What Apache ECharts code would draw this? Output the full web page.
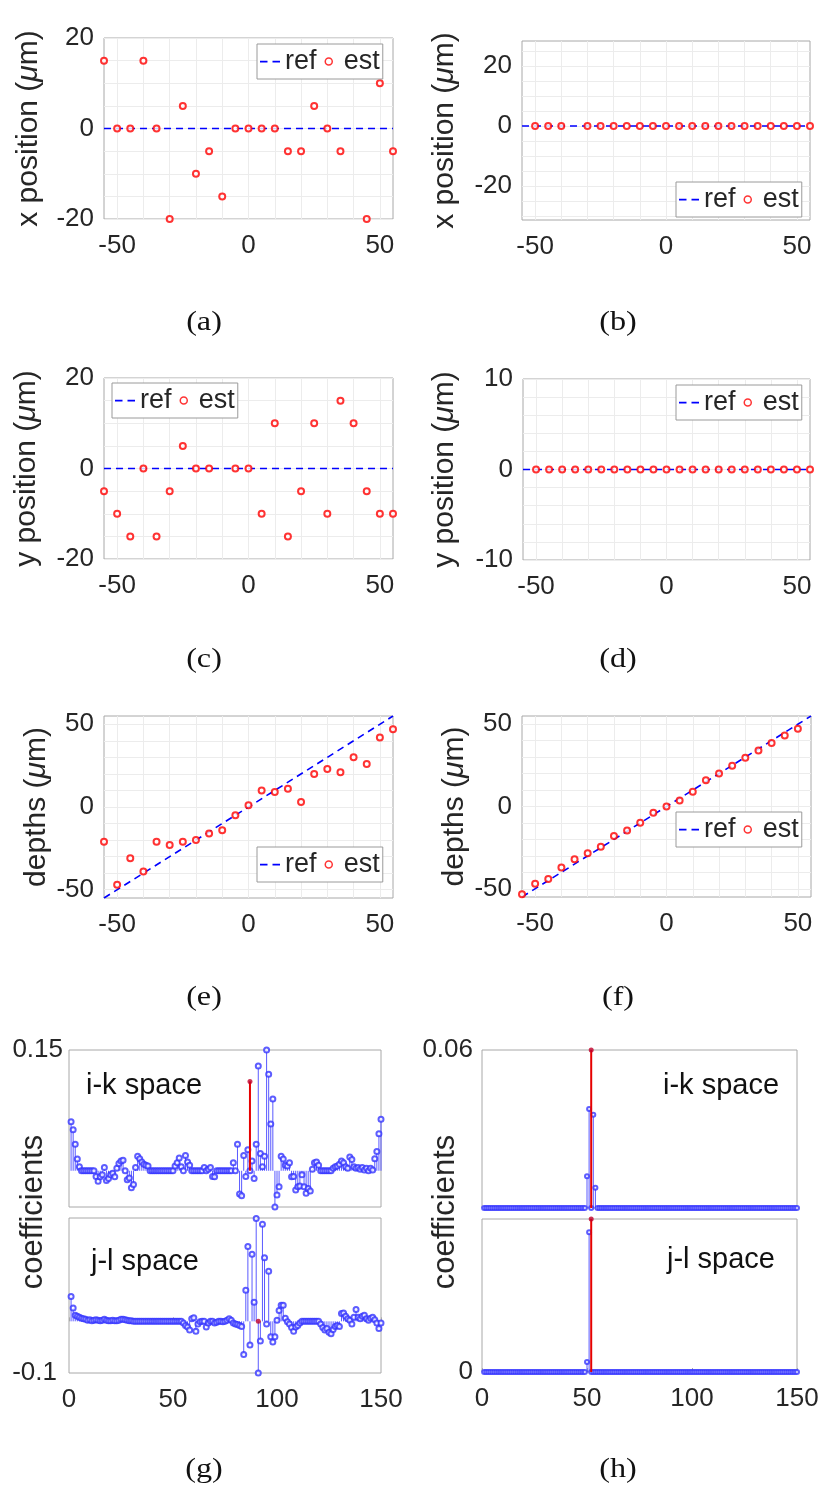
<!DOCTYPE html>
<html>
<head>
<meta charset="utf-8">
<script src="https://cdn.jsdelivr.net/npm/echarts@6/dist/echarts.min.js"></script>
<style>html,body{margin:0;padding:0;background:#fff}#main{width:832px;height:1489px}</style>
</head>
<body>
<div id="main"></div>
<script>
// ---- data ----
const xsA = [-55,-50,-45,-40,-35,-30,-25,-20,-15,-10,-5,0,5,10,15,20,25,30,35,45,50,55];
const estA = [15,0,0,15,0,-20,5,-10,-5,-15,0,0,0,0,-5,-5,5,0,-5,-20,10,-5];
const xsB = [-50,-45,-40,-30,-25,-20,-15,-10,-5,0,5,10,15,20,25,30,35,40,45,50,55];
const estB = [0,0,0,0,0,0,0,0,0,0,0,0,0,0,0,0,0,0,0,0,0];
const xsC = [-55,-50,-45,-40,-35,-30,-25,-20,-15,-5,0,5,10,15,20,25,30,35,40,45,50,55];
const estC = [-5,-10,-15,0,-15,-5,5,0,0,0,0,-10,10,-15,-5,10,-10,15,10,-5,-10,-10];
const xsD = [-50,-45,-40,-35,-30,-25,-20,-15,-10,-5,0,5,10,15,20,25,30,35,40,45,50,55];
const estD = [0,0,0,0,0,0,0,0,0,0,0,0,0,0,0,0,0,0,0,0,0,0];
const xsE = [-55,-50,-45,-40,-35,-30,-25,-20,-15,-10,-5,0,5,10,15,20,25,30,35,40,45,50,55];
const estE = [-21,-47,-31,-39,-21,-23,-21,-20,-16,-14,-5,1,10,9,11,3,20,23,21,30,26,42,47];
const xsF = [-55,-50,-45,-40,-35,-30,-25,-20,-15,-10,-5,0,5,10,15,20,25,30,35,40,45,50];
const estF = [-53.4,-47,-44,-37,-32,-28.4,-24.4,-18,-14.6,-9.8,-3.8,0,3.6,9,16,20,24.8,29.6,34,38.6,43.2,47.2];

const refFlat = [[-55,0],[55,0]];
const refDiag = [[-55,-55],[55,55]];

// tick labels and grid lines
const posTicks = [-50,0,50];
const posGridX = [-50,-40,-30,-20,-10,0,10,20,30,40,50];
const ticks20 = [-20,0,20];
const grid20 = [-20,-15,-10,-5,0,5,10,15,20];
const gridB = [-30,-25,-20,-15,-10,-5,0,5,10,15,20,25];
const ticks10 = [-10,0,10];
const grid10 = [-10,-8,-6,-4,-2,0,2,4,6,8,10];
const ticks50 = [-50,0,50];
const grid50 = [-50,-40,-30,-20,-10,0,10,20,30,40,50];
const coefTicks = [0,50,100,150];

// stem plots (g), (h): coefficient index 1..150
const coefIdx = Array.from({length: 150}, (_, i) => i + 1);
const gTopEst = [
  0.061,0.051,0.033,0.0145,0.005,0,0,0,0,0,
  0,0,-0.007,-0.013,-0.0075,-0.005,0.004,-0.012,-0.0095,-0.005,
  -0.003,-0.0075,0.003,0.009,0.012,0.013,0,-0.011,-0.009,-0.021,
  -0.017,0.004,0.018,0.015,0.011,0.008,0.007,0.006,0,0,
  0,0,0,0,0,0,0,0,0,0,
  0.006,0.010,0.016,0.005,0,0.019,0.011,0.007,0,0,
  0,0,0,0,0.004,0,0.002,0.004,-0.007,-0.0075,
  0,0,0,0,0,0,0,0,0.010,0,
  0.033,-0.029,-0.031,0.019,-0.007,0.026,0,0.012,-0.0095,0.033,
  0.130,0.0215,0.005,0.018,0.150,0.120,0.058,0.089,-0.045,-0.030,
  -0.020,0.018,0.0145,0.007,0.006,0.010,-0.0075,-0.007,-0.024,-0.020,
  -0.019,-0.005,-0.020,-0.028,-0.022,-0.025,0.002,0.010,0.011,0.007,
  0,0,0,0,0,0,0.003,0.005,0.006,0.008,
  0.012,0.010,0.005,0.003,0.017,0.014,0.005,0.003,0.004,0.002,
  0.004,0.001,0.003,0,0.003,0.001,0.015,0.024,0.046,0.064
];
const gBotEst = [
  0.048,0.026,0.012,0.010,0.008,0.006,0.005,0.004,0.002,0.003,
  0.001,0.002,0.003,0.002,0.001,0.002,0.004,0.002,0.001,0.001,
  0.002,0.001,0.001,0.002,0.004,0.004,0.003,0.002,0.001,0.001,
  0,0,0,0,0,0,0,0,0,0,
  0,0,0,0,0,0,0,0,0,0,
  0,0,0,0,-0.003,-0.008,-0.011,-0.017,0.005,0.007,
  -0.019,-0.005,-0.001,0,0,-0.011,-0.003,0,0,-0.003,
  -0.002,0,0,-0.001,0,0.002,0.005,0.002,-0.003,-0.005,
  -0.006,-0.008,-0.010,-0.064,0.060,0.145,-0.046,0.130,0.037,0.199,
  -0.100,-0.038,0.188,0.123,-0.005,0.097,-0.030,-0.040,-0.030,0.002,
  0.021,0.031,0.031,0.006,-0.001,-0.005,-0.012,-0.019,-0.011,-0.008,
  -0.003,0,0,0,0,0,0,0,0,0,
  -0.005,-0.012,-0.017,-0.014,-0.021,-0.024,-0.016,-0.010,-0.008,-0.010,
  0.015,0.016,0.010,0.005,0.002,-0.005,0.008,0.023,0.008,0.005,
  0.010,0.012,0.005,0.002,0.006,0.008,0.003,-0.003,-0.014,-0.003
];
const hTopEst = [
  0,0,0,0,0,0,0,0,0,0,
  0,0,0,0,0,0,0,0,0,0,
  0,0,0,0,0,0,0,0,0,0,
  0,0,0,0,0,0,0,0,0,0,
  0,0,0,0,0,0,0,0,0,0.0121,
  0.0376,0,0.0354,0.0077,0,0,0,0,0,0,
  0,0,0,0,0,0,0,0,0,0,
  0,0,0,0,0,0,0,0,0,0,
  0,0,0,0,0,0,0,0,0,0,
  0,0,0,0,0,0,0,0,0,0,
  0,0,0,0,0,0,0,0,0,0,
  0,0,0,0,0,0,0,0,0,0,
  0,0,0,0,0,0,0,0,0,0,
  0,0,0,0,0,0,0,0,0,0,
  0,0,0,0,0,0,0,0,0,0
];
const hBotEst = [
  0,0,0,0,0,0,0,0,0,0,
  0,0,0,0,0,0,0,0,0,0,
  0,0,0,0,0,0,0,0,0,0,
  0,0,0,0,0,0,0,0,0,0,
  0,0,0,0,0,0,0,0,0,0.0039,
  0.0548,0,0,0,0,0,0,0,0,0,
  0,0,0,0,0,0,0,0,0,0,
  0,0,0,0,0,0,0,0,0,0,
  0,0,0,0,0,0,0,0,0,0,
  0,0,0,0,0,0,0,0,0,0,
  0,0,0,0,0,0,0,0,0,0,
  0,0,0,0,0,0,0,0,0,0,
  0,0,0,0,0,0,0,0,0,0,
  0,0,0,0,0,0,0,0,0,0,
  0,0,0,0,0,0,0,0,0,0
];
const gTopTrue = [[87, 0.111]];
const gBotTrue = [[91, 0]];
const hTopTrue = [[52, 0.06]];
const hBotTrue = [[52, 0.06]];

// ---- layout ----
const F = 'Liberation Sans';
const INK = '#262626';
const BOX = '#a8a8a8';
const GRIDC = '#ececec';
const DASH_ICON = 'path://M0,0L0,0M0,2.7h7.5v1.7h-7.5zM12.5,2.7h7.5v1.7h-7.5zM20,7L20,7';

const scatterPanels = [
  {g: {left: 104, top: 38, width: 289, height: 181}, ymin: -20, ymax: 20, yt: ticks20, yg: grid20,
   leg: {left: 257, top: 44}, label: 'x position', gap: 60, xs: xsA, ys: estA, ref: refFlat},
  {g: {left: 522, top: 41, width: 288, height: 179}, ymin: -31.3, ymax: 28.3, yt: ticks20, yg: gridB,
   leg: {left: 676, top: 182}, label: 'x position', gap: 62, xs: xsB, ys: estB, ref: refFlat},
  {g: {left: 104, top: 378, width: 289, height: 181}, ymin: -20, ymax: 20, yt: ticks20, yg: grid20,
   leg: {left: 112, top: 383}, label: 'y position', gap: 62, xs: xsC, ys: estC, ref: refFlat},
  {g: {left: 523, top: 379, width: 287, height: 181}, ymin: -10, ymax: 10, yt: ticks10, yg: grid10,
   leg: {left: 676, top: 385}, label: 'y position', gap: 63, xs: xsD, ys: estD, ref: refFlat},
  {g: {left: 104, top: 716, width: 289, height: 182}, ymin: -55, ymax: 55, yt: ticks50, yg: grid50,
   leg: {left: 257, top: 847}, label: 'depths', gap: 52, xs: xsE, ys: estE, ref: refDiag},
  {g: {left: 522, top: 716, width: 289, height: 181}, ymin: -55, ymax: 55, yt: ticks50, yg: grid50,
   leg: {left: 676, top: 812}, label: 'depths', gap: 52, xs: xsF, ys: estF, ref: refDiag}
];

const stemPanels = [
  {g: {left: 69, top: 1050, width: 312, height: 157}, ymin: -0.045, ymax: 0.15, yt: [0.15], lm: 6,
   bottom: false, est: gTopEst, tru: gTopTrue, sym: 5},
  {g: {left: 69, top: 1218, width: 312, height: 155}, ymin: -0.1, ymax: 0.2, yt: [-0.1], lm: 12,
   bottom: true, est: gBotEst, tru: gBotTrue, sym: 5},
  {g: {left: 482, top: 1050, width: 315, height: 158}, ymin: 0, ymax: 0.06, yt: [0.06], lm: 9,
   bottom: false, est: hTopEst, tru: hTopTrue, sym: 4},
  {g: {left: 482, top: 1219, width: 315, height: 153}, ymin: 0, ymax: 0.06, yt: [0], lm: 9,
   bottom: true, est: hBotEst, tru: hBotTrue, sym: 4}
];

const labelStyle = {fontSize: 26, fontFamily: F, color: INK};

const grids = [], xAxes = [], yAxes = [], series = [], legends = [];

scatterPanels.forEach((p, i) => {
  grids.push(Object.assign({show: true, borderColor: BOX, borderWidth: 1, backgroundColor: '#fff'}, p.g));
  xAxes.push({
    type: 'value', gridIndex: i, min: -55, max: 55,
    axisLine: {show: false},
    axisTick: {show: false, customValues: posGridX},
    splitLine: {show: true, lineStyle: {color: GRIDC, width: 1}},
    axisLabel: Object.assign({customValues: posTicks, margin: 14}, labelStyle)
  });
  yAxes.push({
    type: 'value', gridIndex: i, min: p.ymin, max: p.ymax,
    axisLine: {show: false},
    axisTick: {show: false, customValues: p.yg},
    splitLine: {show: true, lineStyle: {color: GRIDC, width: 1}},
    axisLabel: Object.assign({customValues: p.yt, margin: 10}, labelStyle),
    name: p.label + ' ({it|\u03bc}m)',
    nameLocation: 'middle', nameGap: p.gap,
    nameTextStyle: {fontSize: 30, fontFamily: F, color: INK,
      rich: {it: {fontSize: 30, fontFamily: F, fontStyle: 'italic', color: INK}}}
  });
  series.push({
    type: 'line', name: 'ref', xAxisIndex: i, yAxisIndex: i, data: p.ref,
    symbol: 'none', silent: true, z: 2,
    lineStyle: {color: '#0000ff', width: 1.6, type: [7, 5]}
  });
  series.push({
    type: 'scatter', name: 'est', xAxisIndex: i, yAxisIndex: i,
    data: p.xs.map((x, j) => [x, p.ys[j]]),
    symbol: 'emptyCircle', symbolSize: 6, z: 3,
    itemStyle: {color: '#ff0000', borderWidth: 1.5}
  });
  legends.push({
    left: p.leg.left, top: p.leg.top, orient: 'horizontal',
    itemWidth: 20, itemHeight: 7, itemGap: 8, padding: [4, 3, 4, 3],
    borderColor: '#9a9a9a', borderWidth: 1, backgroundColor: '#fff',
    selectedMode: false,
    textStyle: {fontSize: 27, fontFamily: F, color: INK},
    data: [
      {name: 'ref', icon: DASH_ICON, itemStyle: {color: '#0000ff', borderWidth: 0}},
      {name: 'est', icon: 'circle', itemStyle: {color: '#fff', borderColor: '#ff0000', borderWidth: 1.5}}
    ]
  });
});

function stem(color, width) {
  return function (params, api) {
    const a = api.coord([api.value(0), 0]);
    const b = api.coord([api.value(0), api.value(1)]);
    return {type: 'line', shape: {x1: a[0], y1: a[1], x2: b[0], y2: b[1]},
            style: {stroke: color, lineWidth: width}};
  };
}

stemPanels.forEach((p, k) => {
  const i = scatterPanels.length + k;
  grids.push(Object.assign({show: true, borderColor: BOX, borderWidth: 1, backgroundColor: '#fff'}, p.g));
  xAxes.push({
    type: 'value', gridIndex: i, min: 0, max: 150,
    axisLine: {show: false}, splitLine: {show: false},
    axisTick: {show: p.bottom, inside: true, length: 4, customValues: coefTicks, lineStyle: {color: BOX}},
    axisLabel: Object.assign({show: p.bottom, customValues: coefTicks, margin: 14}, labelStyle)
  });
  yAxes.push({
    type: 'value', gridIndex: i, min: p.ymin, max: p.ymax,
    axisLine: {show: false}, splitLine: {show: false}, axisTick: {show: false},
    axisLabel: Object.assign({customValues: p.yt, margin: p.lm}, labelStyle)
  });
  const est = coefIdx.map((n, j) => [n, p.est[j]]);
  series.push({type: 'custom', name: 'coef', xAxisIndex: i, yAxisIndex: i, data: est,
    encode: {x: 0, y: 1}, renderItem: stem('#5a5aff', 1), z: 2, silent: true});
  series.push({type: 'scatter', name: 'coef', xAxisIndex: i, yAxisIndex: i, data: est,
    symbol: 'emptyCircle', symbolSize: p.sym, z: 3, silent: true,
    itemStyle: {color: '#3535ff', borderWidth: 1}});
  series.push({type: 'custom', name: 'true', xAxisIndex: i, yAxisIndex: i, data: p.tru,
    encode: {x: 0, y: 1}, renderItem: stem('#e60000', 2), z: 4, silent: true});
  series.push({type: 'scatter', name: 'true', xAxisIndex: i, yAxisIndex: i, data: p.tru,
    symbol: 'circle', symbolSize: 5, z: 5, silent: true,
    itemStyle: {color: '#c0002a'}});
});

// captions and panel texts
const captions = [
  ['(a)', 204, 323], ['(b)', 618, 323], ['(c)', 204, 660], ['(d)', 618, 660],
  ['(e)', 204, 998], ['(f)', 618, 998], ['(g)', 204, 1470], ['(h)', 618, 1470]
];
const spaceTexts = [
  ['i-k space', 144, 1086], ['j-l space', 145, 1262], ['i-k space', 721, 1086], ['j-l space', 721, 1260]
];
const graphics = [];
captions.forEach(c => graphics.push({
  type: 'text', x: c[1], y: c[2], scaleX: 1.15,
  style: {text: c[0], font: '28px "Liberation Serif"', fill: '#111', align: 'center', verticalAlign: 'middle'}
}));
spaceTexts.forEach(c => graphics.push({
  type: 'text', x: c[1], y: c[2], z: 10,
  style: {text: c[0], font: '29px "Liberation Sans"', fill: '#111', align: 'center', verticalAlign: 'middle'}
}));
[[33, 1212], [445, 1212]].forEach(c => graphics.push({
  type: 'text', x: c[0], y: c[1], rotation: Math.PI / 2,
  style: {text: 'coefficients', font: '31px "Liberation Sans"', fill: INK, align: 'center', verticalAlign: 'middle'}
}));

const chart = echarts.init(document.getElementById('main'), null, {renderer: 'canvas'});
chart.setOption({
  animation: false,
  backgroundColor: '#fff',
  grid: grids,
  xAxis: xAxes,
  yAxis: yAxes,
  legend: legends,
  series: series,
  graphic: graphics
});
</script>
</body>
</html>
